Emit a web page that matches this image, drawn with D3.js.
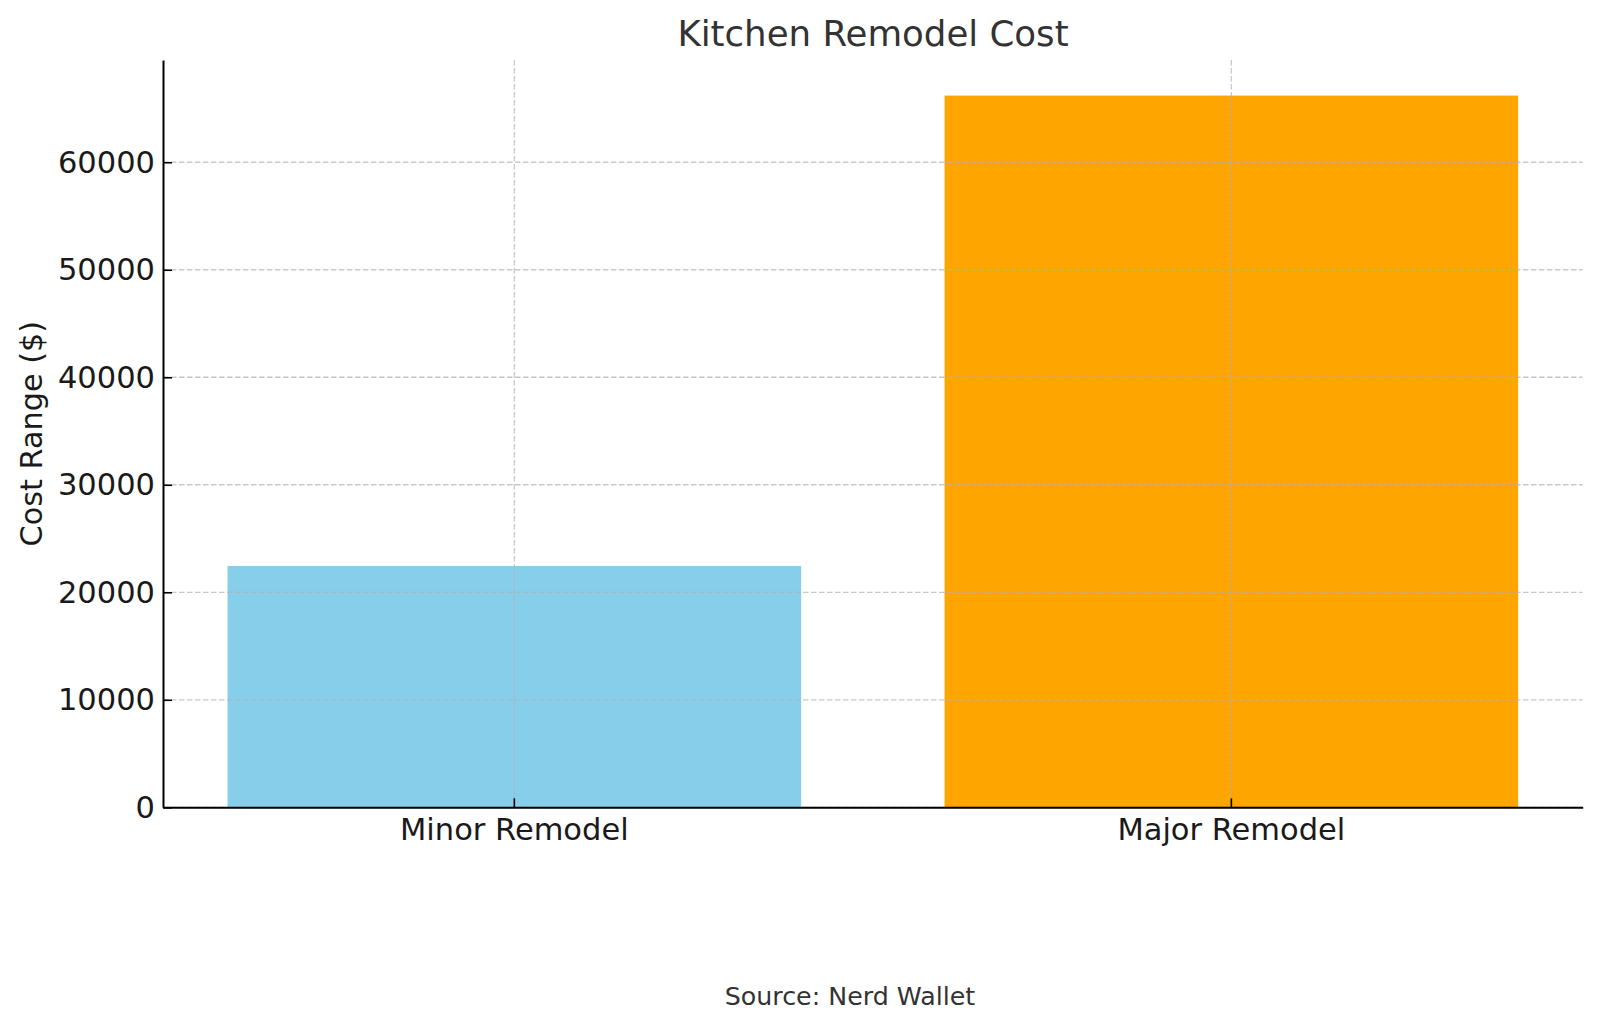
<!DOCTYPE html>
<html>
<head>
<meta charset="utf-8">
<script src="https://cdn.jsdelivr.net/npm/d3@7"></script>
<style>
  body { margin: 0; background: #fff; }
  text { font-family: "DejaVu Sans", sans-serif; }
</style>
</head>
<body>
<div id="chart"></div>
<script>
// Chart data
const categories = ["Minor Remodel", "Major Remodel"];
const costs = [22450, 66200];
const barColors = ["#87CEEB", "#FFA500"];
const yTicks = [0, 10000, 20000, 30000, 40000, 50000, 60000];

const W = 1600, H = 1029;
const plot = { left: 163, right: 1582.7, top: 60, bottom: 807.3 };

const svg = d3.select("#chart")
  .append("svg")
  .attr("width", W)
  .attr("height", H);

// Scales (matplotlib-like bar geometry: width 0.8, 5% margins)
const x = d3.scaleBand()
  .domain(categories)
  .range([plot.left, plot.right])
  .paddingInner(0.2)
  .paddingOuter(0.09);

const y = d3.scaleLinear()
  .domain([0, d3.max(costs) * 1.05])
  .range([plot.bottom, plot.top]);

// Bars
svg.selectAll(".bar")
  .data(categories)
  .enter()
  .append("rect")
  .attr("class", "bar")
  .attr("x", (d) => x(d))
  .attr("y", (d, i) => y(costs[i]))
  .attr("width", x.bandwidth())
  .attr("height", (d, i) => plot.bottom - y(costs[i]))
  .attr("fill", (d, i) => barColors[i]);

// Grid lines (drawn over bars)
const grid = svg.append("g").attr("class", "grid");
grid.selectAll(".hgrid")
  .data(yTicks)
  .enter()
  .append("line")
  .attr("x1", plot.left)
  .attr("x2", plot.right)
  .attr("y1", (d) => y(d))
  .attr("y2", (d) => y(d));
grid.selectAll(".vgrid")
  .data(categories)
  .enter()
  .append("line")
  .attr("x1", (d) => x(d) + x.bandwidth() / 2)
  .attr("x2", (d) => x(d) + x.bandwidth() / 2)
  .attr("y1", plot.top)
  .attr("y2", plot.bottom);
grid.selectAll("line")
  .attr("stroke", "#b0b0b0")
  .attr("stroke-opacity", 0.7)
  .attr("stroke-width", 1.3)
  .attr("stroke-dasharray", "5.5,2.5");

// Y axis
const yAxis = svg.append("g")
  .attr("transform", `translate(${plot.left},0)`)
  .call(d3.axisLeft(y).tickValues(yTicks).tickFormat(d3.format("d"))
    .tickSizeInner(-9).tickSizeOuter(0).tickPadding(8));

// X axis
const xAxis = svg.append("g")
  .attr("transform", `translate(0,${plot.bottom})`)
  .call(d3.axisBottom(x).tickSizeInner(-9).tickSizeOuter(0).tickPadding(11));

[yAxis, xAxis].forEach((ax) => {
  ax.select(".domain").attr("stroke", "#000").attr("stroke-width", 2);
  ax.selectAll(".tick line").attr("stroke", "#000").attr("stroke-width", 1.6);
  ax.selectAll(".tick text")
    .attr("fill", "#1a1a1a")
    .style("font-size", "30.5px")
    .style("font-family", "'DejaVu Sans', sans-serif");
});

// Y axis label
svg.append("text")
  .attr("transform", `translate(42,${(plot.top + plot.bottom) / 2}) rotate(-90)`)
  .attr("text-anchor", "middle")
  .attr("fill", "#1a1a1a")
  .style("font-size", "30.3px")
  .text("Cost Range ($)");

// Title
svg.append("text")
  .attr("x", 873)
  .attr("y", 46)
  .attr("text-anchor", "middle")
  .attr("fill", "#333")
  .style("font-size", "35.6px")
  .text("Kitchen Remodel Cost");

// Source note
svg.append("text")
  .attr("x", 850)
  .attr("y", 1005)
  .attr("text-anchor", "middle")
  .attr("fill", "#333")
  .style("font-size", "25.3px")
  .text("Source: Nerd Wallet");
</script>
</body>
</html>
